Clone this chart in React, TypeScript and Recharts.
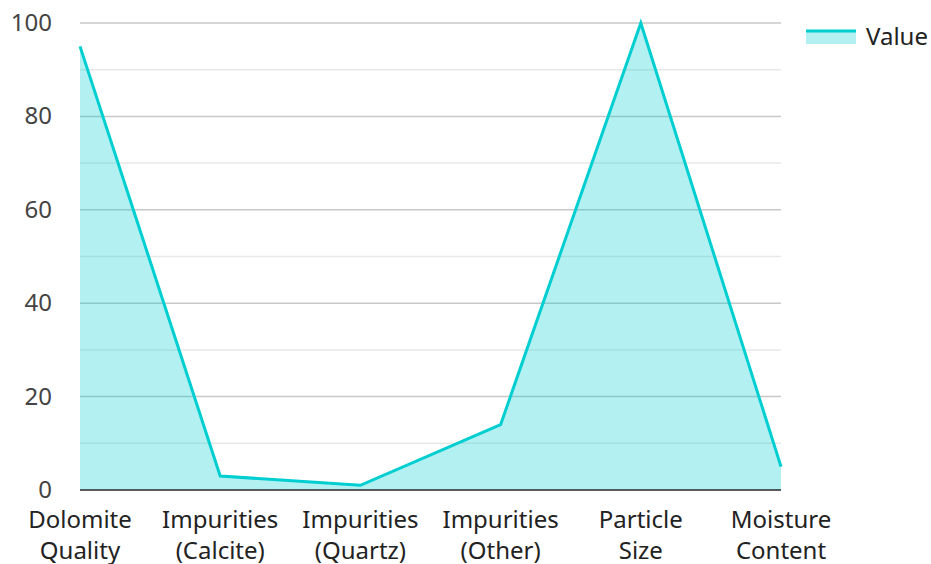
import React from 'react'
import { AreaChart, Area, XAxis, YAxis, CartesianGrid } from 'recharts'

const categories = [
    'Dolomite Quality',
    'Impurities (Calcite)',
    'Impurities (Quartz)',
    'Impurities (Other)',
    'Particle Size',
    'Moisture Content',
]
const values = [95, 3, 1, 14, 100, 5]
const yTicks = [0, 10, 20, 30, 40, 50, 60, 70, 80, 90, 100]

const chartData = categories.map((name, i) => ({ name, value: values[i] }))

const FONT = '"Noto Sans", "Open Sans", sans-serif'
const LINE = '#00CED1'

// category labels are split on the first space into two lines
function XTick({ x, y, payload }: any) {
    const label: string = payload.value
    const idx = label.indexOf(' ')
    const lines = idx > 0 ? [label.slice(0, idx), label.slice(idx + 1)] : [label]
    return (
        <text x={x} y={y} textAnchor="middle" fill="#222" fontSize={24} fontFamily={FONT}>
            {lines.map((l, i) => (
                <tspan key={i} x={x} dy={i === 0 ? 38 : 31}>
                    {l}
                </tspan>
            ))}
        </text>
    )
}

function YTick({ x, y, payload }: any) {
    if (payload.value % 20 !== 0) return <g />
    return (
        <text x={x} y={y} dy={8} textAnchor="end" fill="#444" fontSize={24} fontFamily={FONT}>
            {payload.value}
        </text>
    )
}

function GridLine(props: any) {
    const { x1, x2, y1, y2, index } = props
    return (
        <line
            x1={x1}
            x2={x2}
            y1={y1}
            y2={y2}
            stroke={index % 2 === 0 ? '#c8c8c8' : '#e8e8e8'}
            strokeWidth={1.5}
        />
    )
}

export default function App() {
    return (
        <div style={{ position: 'fixed', top: 0, left: 0, width: 931, height: 564, background: '#fff' }}>
            <AreaChart
                width={931}
                height={564}
                data={chartData}
                margin={{ top: 23, right: 150, bottom: 0, left: 0 }}
            >
                <CartesianGrid vertical={false} horizontal={GridLine} />
                <XAxis
                    dataKey="name"
                    height={74}
                    tickLine={false}
                    tickSize={0}
                    tickMargin={0}
                    interval={0}
                    stroke="#333"
                    strokeWidth={1.5}
                    tick={<XTick />}
                />
                <YAxis
                    width={80}
                    domain={[0, 100]}
                    ticks={yTicks}
                    interval={0}
                    axisLine={false}
                    tickLine={false}
                    tickSize={0}
                    tickMargin={28}
                    tick={<YTick />}
                />
                <Area
                    type="linear"
                    dataKey="value"
                    stroke={LINE}
                    strokeWidth={3}
                    fill={LINE}
                    fillOpacity={0.3}
                    dot={false}
                    activeDot={false}
                    isAnimationActive={false}
                />
            </AreaChart>
            <div
                style={{
                    position: 'absolute',
                    left: 806,
                    top: 19,
                    display: 'flex',
                    alignItems: 'center',
                    fontFamily: FONT,
                    fontSize: 24,
                    color: '#222',
                }}
            >
                <svg width={50} height={16} style={{ marginRight: 10 }}>
                    <rect x={0} y={2} width={50} height={14} fill={LINE} fillOpacity={0.3} />
                    <line x1={0} x2={50} y1={3} y2={3} stroke={LINE} strokeWidth={3} />
                </svg>
                <span>Value</span>
            </div>
        </div>
    )
}
